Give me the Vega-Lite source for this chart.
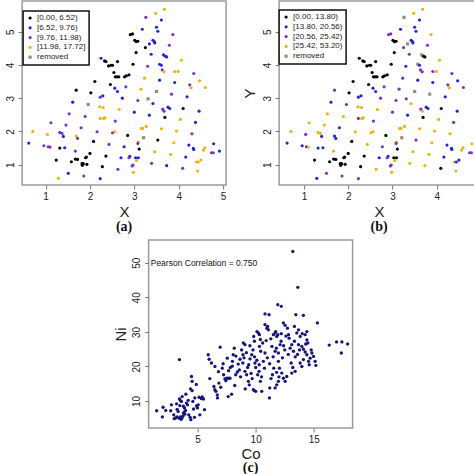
{
  "$schema": "https://vega.github.io/schema/vega-lite/v6.json",
  "padding": {"left": 4, "top": 0, "right": 0, "bottom": 0},
  "background": "white",
  "center": true,
  "spacing": 4,
  "config": {
    "view": {"stroke": "#9a9a9a", "strokeWidth": 1.5},
    "axis": {"grid": false, "domain": false, "tickColor": "#777777", "tickSize": 4, "labelFont": "Liberation Sans", "labelFontSize": 10, "labelColor": "#222222", "titleFont": "Liberation Sans", "titleFontSize": 15, "titleFontWeight": "normal", "titleColor": "#222222"},
    "axisY": {"labelAngle": -90},
    "legend": {"title": null, "orient": "none", "strokeColor": "#111111", "strokeWidth": 1.5, "fillColor": "white", "padding": 3, "labelFont": "Liberation Sans", "labelFontSize": 8, "labelColor": "#222222", "symbolSize": 28, "rowPadding": 1.8, "labelOffset": 3, "labelLimit": 200},
    "title": {"font": "Liberation Serif", "fontSize": 14, "fontWeight": "bold", "color": "#111111"}
  },
  "datasets": {
    "pts": [
      {"x":3.68,"y":5.67,"a":"o","b":"o"},{"x":3.26,"y":5.43,"a":"p","b":"r"},{"x":3.48,"y":5.55,"a":"o","b":"o"},{"x":3.61,"y":5.35,"a":"b","b":"b"},
      {"x":3.18,"y":5.07,"a":"b","b":"b"},{"x":3.50,"y":5.13,"a":"b","b":"b"},{"x":3.53,"y":5.01,"a":"b","b":"b"},{"x":2.91,"y":4.91,"a":"k","b":"p"},
      {"x":2.96,"y":4.93,"a":"k","b":"p"},{"x":3.87,"y":4.91,"a":"p","b":"o"},{"x":3.01,"y":4.74,"a":"k","b":"k"},{"x":3.04,"y":4.70,"a":"k","b":"k"},
      {"x":3.08,"y":4.71,"a":"k","b":"k"},{"x":3.42,"y":4.74,"a":"b","b":"b"},{"x":3.45,"y":4.70,"a":"b","b":"b"},{"x":3.46,"y":4.66,"a":"b","b":"b"},
      {"x":3.34,"y":4.63,"a":"b","b":"r"},{"x":3.25,"y":4.52,"a":"k","b":"p"},{"x":3.79,"y":4.59,"a":"p","b":"p"},{"x":3.04,"y":4.37,"a":"k","b":"k"},
      {"x":3.38,"y":4.32,"a":"b","b":"p"},{"x":3.66,"y":4.30,"a":"b","b":"r"},{"x":3.70,"y":4.26,"a":"b","b":"k"},{"x":3.73,"y":4.24,"a":"b","b":"k"},
      {"x":4.06,"y":4.14,"a":"o","b":"o"},{"x":2.97,"y":4.02,"a":"k","b":"k"},{"x":3.57,"y":4.02,"a":"b","b":"r"},{"x":3.61,"y":3.99,"a":"b","b":"b"},
      {"x":3.30,"y":3.96,"a":"p","b":"b"},{"x":3.63,"y":3.85,"a":"p","b":"p"},{"x":3.67,"y":3.79,"a":"o","b":"p"},{"x":3.91,"y":3.80,"a":"o","b":"p"},
      {"x":3.99,"y":3.80,"a":"o","b":"o"},{"x":4.34,"y":3.74,"a":"p","b":"p"},{"x":2.78,"y":3.64,"a":"k","b":"k"},{"x":2.82,"y":3.67,"a":"k","b":"k"},
      {"x":2.88,"y":3.70,"a":"k","b":"k"},{"x":3.23,"y":3.60,"a":"o","b":"p"},{"x":3.57,"y":3.54,"a":"b","b":"b"},{"x":3.91,"y":3.47,"a":"b","b":"b"},
      {"x":4.47,"y":3.52,"a":"o","b":"b"},{"x":4.25,"y":3.40,"a":"p","b":"p"},{"x":4.28,"y":3.31,"a":"o","b":"o"},{"x":4.60,"y":3.32,"a":"o","b":"p"},
      {"x":2.81,"y":3.34,"a":"p","b":"p"},{"x":3.15,"y":3.27,"a":"o","b":"p"},{"x":4.19,"y":3.04,"a":"b","b":"b"},
      {"x":2.73,"y":3.00,"a":"b","b":"p"},{"x":3.08,"y":2.93,"a":"p","b":"p"},{"x":3.42,"y":2.84,"a":"b","b":"o"},
      {"x":3.64,"y":2.67,"a":"p","b":"p"},{"x":3.76,"y":2.73,"a":"b","b":"b"},{"x":3.80,"y":2.69,"a":"b","b":"b"},{"x":3.67,"y":2.61,"a":"p","b":"o"},
      {"x":4.10,"y":2.69,"a":"k","b":"k"},{"x":4.46,"y":2.61,"a":"b","b":"b"},{"x":3.00,"y":2.58,"a":"b","b":"p"},{"x":3.34,"y":2.49,"a":"b","b":"b"},
      {"x":3.69,"y":2.42,"a":"k","b":"k"},{"x":4.04,"y":2.36,"a":"o","b":"o"},{"x":4.38,"y":2.27,"a":"b","b":"p"},{"x":3.27,"y":2.15,"a":"o","b":"o"},
      {"x":3.16,"y":2.09,"a":"o","b":"o"},{"x":3.19,"y":2.09,"a":"o","b":"o"},{"x":3.61,"y":2.08,"a":"o","b":"o"},{"x":3.95,"y":2.01,"a":"o","b":"o"},
      {"x":2.85,"y":1.88,"a":"k","b":"k"},{"x":4.30,"y":1.93,"a":"p","b":"o"},{"x":3.53,"y":1.74,"a":"k","b":"p"},
      {"x":3.09,"y":1.68,"a":"o","b":"o"},{"x":3.08,"y":1.64,"a":"p","b":"p"},{"x":3.89,"y":1.66,"a":"o","b":"o"},{"x":2.77,"y":1.54,"a":"b","b":"p"},
      {"x":4.23,"y":1.59,"a":"b","b":"b"},{"x":4.33,"y":1.49,"a":"b","b":"b"},{"x":4.34,"y":1.46,"a":"b","b":"b"},{"x":4.59,"y":1.51,"a":"o","b":"o"},
      {"x":4.56,"y":1.44,"a":"o","b":"o"},{"x":3.11,"y":1.47,"a":"k","b":"k"},{"x":4.79,"y":1.63,"a":"b","b":"o"},{"x":4.92,"y":1.41,"a":"b","b":"p"},
      {"x":4.74,"y":1.36,"a":"p","b":"p"},{"x":4.78,"y":1.36,"a":"p","b":"p"},{"x":3.46,"y":1.39,"a":"o","b":"o"},{"x":3.82,"y":1.31,"a":"o","b":"o"},
      {"x":4.16,"y":1.23,"a":"b","b":"b"},{"x":2.90,"y":1.25,"a":"b","b":"b"},{"x":2.88,"y":1.21,"a":"p","b":"p"},{"x":3.03,"y":1.21,"a":"b","b":"k"},
      {"x":3.09,"y":1.21,"a":"b","b":"k"},{"x":3.05,"y":1.13,"a":"o","b":"o"},{"x":4.40,"y":1.08,"a":"o","b":"o"},{"x":4.44,"y":1.08,"a":"o","b":"b"},
      {"x":4.50,"y":1.14,"a":"o","b":"b"},{"x":3.39,"y":1.04,"a":"p","b":"o"},{"x":2.97,"y":0.99,"a":"p","b":"p"},{"x":2.95,"y":0.96,"a":"p","b":"p"},
      {"x":3.73,"y":0.97,"a":"b","b":"o"},{"x":4.09,"y":0.89,"a":"p","b":"k"},{"x":2.98,"y":0.77,"a":"o","b":"o"},{"x":4.43,"y":0.81,"a":"o","b":"o"},
      {"x":2.63,"y":0.86,"a":"p","b":"o"},
      {"x":2.25,"y":4.20,"a":"b","b":"k"},{"x":2.33,"y":4.12,"a":"k","b":"k"},{"x":2.36,"y":4.10,"a":"k","b":"k"},{"x":2.42,"y":3.97,"a":"k","b":"k"},
      {"x":2.48,"y":3.99,"a":"k","b":"k"},{"x":2.51,"y":3.99,"a":"k","b":"k"},{"x":2.62,"y":4.10,"a":"k","b":"k"},{"x":2.54,"y":3.77,"a":"k","b":"k"},
      {"x":2.57,"y":3.64,"a":"k","b":"k"},{"x":2.61,"y":3.64,"a":"k","b":"k"},{"x":2.65,"y":3.64,"a":"k","b":"k"},{"x":2.46,"y":3.41,"a":"k","b":"k"},
      {"x":2.56,"y":3.30,"a":"b","b":"b"},{"x":2.62,"y":3.20,"a":"b","b":"b"},{"x":2.11,"y":3.50,"a":"k","b":"k"},{"x":2.02,"y":3.16,"a":"k","b":"k"},
      {"x":1.69,"y":3.24,"a":"k","b":"p"},{"x":1.61,"y":2.88,"a":"b","b":"b"},{"x":2.23,"y":3.03,"a":"p","b":"b"},
      {"x":2.29,"y":3.07,"a":"b","b":"b"},{"x":2.22,"y":2.74,"a":"o","b":"o"},{"x":2.30,"y":2.72,"a":"o","b":"o"},{"x":2.66,"y":2.66,"a":"o","b":"o"},
      {"x":1.53,"y":2.53,"a":"p","b":"o"},{"x":1.89,"y":2.45,"a":"p","b":"o"},{"x":2.23,"y":2.39,"a":"o","b":"p"},{"x":2.31,"y":2.39,"a":"o","b":"o"},
      {"x":2.34,"y":2.41,"a":"o","b":"o"},{"x":2.57,"y":2.31,"a":"p","b":"p"},{"x":1.12,"y":2.26,"a":"p","b":"o"},{"x":1.46,"y":2.19,"a":"p","b":"o"},
      {"x":1.80,"y":2.11,"a":"p","b":"b"},{"x":0.71,"y":2.00,"a":"o","b":"o"},{"x":1.04,"y":1.91,"a":"o","b":"p"},{"x":1.32,"y":1.97,"a":"p","b":"o"},
      {"x":1.37,"y":1.94,"a":"p","b":"o"},{"x":1.40,"y":1.85,"a":"b","b":"b"},{"x":1.69,"y":1.86,"a":"o","b":"b"},{"x":1.72,"y":1.79,"a":"p","b":"b"},
      {"x":2.16,"y":1.99,"a":"p","b":"o"},{"x":2.51,"y":1.96,"a":"p","b":"o"},{"x":2.56,"y":1.99,"a":"o","b":"o"},{"x":0.62,"y":1.65,"a":"b","b":"b"},
      {"x":0.96,"y":1.57,"a":"p","b":"b"},{"x":1.06,"y":1.54,"a":"p","b":"b"},{"x":1.10,"y":1.53,"a":"p","b":"o"},{"x":1.32,"y":1.50,"a":"k","b":"b"},
      {"x":1.43,"y":1.51,"a":"b","b":"b"},{"x":2.08,"y":1.70,"a":"k","b":"k"},{"x":2.43,"y":1.61,"a":"p","b":"o"},{"x":2.00,"y":1.34,"a":"k","b":"k"},
      {"x":2.36,"y":1.26,"a":"k","b":"k"},{"x":2.70,"y":1.21,"a":"b","b":"b"},{"x":1.67,"y":1.41,"a":"p","b":"o"},{"x":1.24,"y":1.14,"a":"k","b":"k"},
      {"x":1.58,"y":1.09,"a":"k","b":"k"},{"x":1.67,"y":1.17,"a":"k","b":"k"},{"x":1.72,"y":1.16,"a":"k","b":"k"},{"x":1.90,"y":1.21,"a":"k","b":"k"},
      {"x":1.92,"y":1.23,"a":"k","b":"k"},{"x":1.82,"y":1.03,"a":"k","b":"k"},{"x":1.85,"y":1.03,"a":"k","b":"k"},{"x":1.83,"y":0.98,"a":"k","b":"k"},
      {"x":1.93,"y":1.01,"a":"k","b":"k"},{"x":2.28,"y":0.94,"a":"k","b":"k"},{"x":1.51,"y":0.74,"a":"b","b":"p"},{"x":1.86,"y":0.66,"a":"p","b":"p"},
      {"x":1.29,"y":0.59,"a":"o","b":"b"},{"x":2.23,"y":0.58,"a":"b","b":"p"},
      {"x":3.50,"y":3.20,"a":"r","b":"r"},{"x":3.31,"y":2.98,"a":"r","b":"p"},{"x":3.84,"y":3.12,"a":"p","b":"r"},{"x":3.21,"y":1.81,"a":"r","b":"r"},
      {"x":1.96,"y":2.81,"a":"r","b":"p"}
    ],
    "cc": [
      {"Co":13.19,"Ni":53.3},{"Co":13.62,"Ni":42.9},{"Co":3.45,"Ni":22.0},{"Co":16.32,"Ni":26.2},{"Co":16.95,"Ni":27.1},{"Co":17.41,"Ni":27.1},{"Co":17.9,"Ni":26.5},{"Co":17.36,"Ni":23.9},
      {"Co":15.3,"Ni":32.6},{"Co":11.9,"Ni":37.9},{"Co":12.2,"Ni":37.4},{"Co":10.8,"Ni":35.2},{"Co":11.15,"Ni":35.0},{"Co":13.45,"Ni":35.0},{"Co":14.1,"Ni":34.8},
      {"Co":1.49,"Ni":7.2},{"Co":1.98,"Ni":5.4},{"Co":2.04,"Ni":8.2},{"Co":2.27,"Ni":7.3},{"Co":2.7,"Ni":7.2},{"Co":2.76,"Ni":8.9},{"Co":2.96,"Ni":6.0},{"Co":3.1,"Ni":5.1},
      {"Co":3.25,"Ni":5.4},{"Co":3.42,"Ni":5.0},{"Co":3.53,"Ni":5.4},{"Co":3.65,"Ni":5.0},{"Co":3.74,"Ni":5.6},{"Co":3.25,"Ni":7.6},{"Co":3.33,"Ni":7.0},{"Co":3.48,"Ni":8.7},
      {"Co":3.45,"Ni":10.6},{"Co":3.53,"Ni":10.1},{"Co":3.68,"Ni":11.3},{"Co":3.62,"Ni":9.9},{"Co":3.79,"Ni":8.5},{"Co":3.88,"Ni":8.0},{"Co":3.97,"Ni":7.3},{"Co":3.91,"Ni":6.2},
      {"Co":3.85,"Ni":6.8},{"Co":4.05,"Ni":9.4},{"Co":4.2,"Ni":10.2},{"Co":4.14,"Ni":8.9},{"Co":4.25,"Ni":6.0},{"Co":4.37,"Ni":5.3},{"Co":4.43,"Ni":4.6},{"Co":4.4,"Ni":13.5},
      {"Co":4.54,"Ni":13.0},{"Co":4.54,"Ni":15.7},{"Co":4.48,"Ni":17.1},{"Co":4.6,"Ni":9.9},{"Co":4.77,"Ni":10.9},{"Co":4.66,"Ni":7.7},{"Co":4.74,"Ni":5.3},{"Co":4.91,"Ni":8.6},
      {"Co":5.0,"Ni":8.0},{"Co":5.06,"Ni":8.9},{"Co":5.14,"Ni":11.1},{"Co":5.34,"Ni":10.7},{"Co":5.52,"Ni":10.6},{"Co":5.6,"Ni":7.5},{"Co":5.2,"Ni":6.0},{"Co":3.0,"Ni":4.9},
      {"Co":3.6,"Ni":4.7},{"Co":3.8,"Ni":6.5},{"Co":4.0,"Ni":12.0},{"Co":3.2,"Ni":9.2},{"Co":4.9,"Ni":14.8},{"Co":5.4,"Ni":11.2},
      {"Co":5.92,"Ni":23.4},{"Co":6.0,"Ni":22.1},{"Co":6.2,"Ni":21.0},{"Co":6.06,"Ni":16.5},{"Co":6.41,"Ni":14.2},{"Co":6.49,"Ni":13.3},{"Co":6.58,"Ni":12.8},{"Co":6.7,"Ni":11.8},
      {"Co":6.72,"Ni":10.9},{"Co":6.84,"Ni":15.2},{"Co":6.95,"Ni":25.6},{"Co":7.13,"Ni":19.5},{"Co":7.24,"Ni":17.6},{"Co":7.36,"Ni":16.4},{"Co":7.5,"Ni":16.6},{"Co":7.64,"Ni":16.6},
      {"Co":7.79,"Ni":16.6},{"Co":7.44,"Ni":15.9},{"Co":7.67,"Ni":18.8},{"Co":7.82,"Ni":19.7},{"Co":7.56,"Ni":22.4},{"Co":8.07,"Ni":23.4},{"Co":8.16,"Ni":25.3},{"Co":7.99,"Ni":20.1},
      {"Co":7.64,"Ni":11.3},{"Co":7.93,"Ni":12.0},{"Co":8.28,"Ni":17.6},{"Co":8.42,"Ni":18.4},{"Co":8.5,"Ni":20.7},{"Co":8.65,"Ni":22.1},{"Co":8.79,"Ni":24.8},{"Co":8.91,"Ni":23.4},
      {"Co":8.94,"Ni":26.8},{"Co":9.08,"Ni":26.3},{"Co":9.08,"Ni":18.6},{"Co":9.22,"Ni":17.6},{"Co":9.31,"Ni":19.7},{"Co":9.37,"Ni":15.7},{"Co":9.45,"Ni":14.7},{"Co":9.51,"Ni":22.2},
      {"Co":9.66,"Ni":23.4},{"Co":9.77,"Ni":24.8},{"Co":9.83,"Ni":28.7},{"Co":9.89,"Ni":27.3},{"Co":9.94,"Ni":21.0},{"Co":10.0,"Ni":19.7},{"Co":9.8,"Ni":13.3},{"Co":9.89,"Ni":13.0},
      {"Co":10.0,"Ni":12.8},{"Co":10.11,"Ni":30.1},{"Co":10.23,"Ni":29.7},{"Co":10.32,"Ni":29.2},{"Co":10.32,"Ni":25.8},{"Co":10.43,"Ni":24.4},{"Co":10.17,"Ni":17.6},{"Co":10.29,"Ni":18.6},
      {"Co":10.4,"Ni":15.7},{"Co":10.52,"Ni":12.8},{"Co":10.66,"Ni":21.5},{"Co":10.8,"Ni":23.9},{"Co":10.75,"Ni":19.5},{"Co":10.8,"Ni":32.1},{"Co":10.95,"Ni":31.1},{"Co":11.03,"Ni":31.6},
      {"Co":11.09,"Ni":30.6},{"Co":11.18,"Ni":10.9},{"Co":11.21,"Ni":13.8},{"Co":11.32,"Ni":16.5},{"Co":11.44,"Ni":17.6},{"Co":11.55,"Ni":19.5},{"Co":11.52,"Ni":29.2},{"Co":11.67,"Ni":29.7},
      {"Co":11.72,"Ni":30.1},{"Co":11.81,"Ni":28.7},{"Co":11.9,"Ni":29.2},{"Co":11.67,"Ni":24.4},{"Co":11.78,"Ni":25.3},{"Co":11.95,"Ni":23.9},{"Co":12.1,"Ni":26.3},{"Co":12.18,"Ni":27.3},
      {"Co":11.95,"Ni":21.5},{"Co":12.04,"Ni":19.5},{"Co":12.24,"Ni":18.1},{"Co":11.67,"Ni":13.8},{"Co":11.81,"Ni":14.7},{"Co":11.95,"Ni":15.7},{"Co":12.38,"Ni":16.6},{"Co":12.53,"Ni":15.7},
      {"Co":12.67,"Ni":17.1},{"Co":12.38,"Ni":32.6},{"Co":12.53,"Ni":31.9},{"Co":12.73,"Ni":31.1},{"Co":12.82,"Ni":29.2},{"Co":12.87,"Ni":28.2},{"Co":12.96,"Ni":25.3},{"Co":13.1,"Ni":26.3},
      {"Co":13.25,"Ni":24.4},{"Co":13.33,"Ni":27.3},{"Co":13.05,"Ni":21.0},{"Co":13.19,"Ni":19.7},{"Co":13.39,"Ni":18.6},{"Co":13.33,"Ni":31.6},{"Co":13.53,"Ni":29.7},{"Co":13.68,"Ni":30.6},
      {"Co":13.82,"Ni":28.7},{"Co":13.68,"Ni":26.3},{"Co":13.76,"Ni":24.8},{"Co":13.97,"Ni":25.8},{"Co":13.82,"Ni":21.0},{"Co":13.97,"Ni":20.0},{"Co":14.1,"Ni":22.0},{"Co":14.25,"Ni":29.2},
      {"Co":14.4,"Ni":27.7},{"Co":14.48,"Ni":26.8},{"Co":14.1,"Ni":25.0},{"Co":14.25,"Ni":24.2},{"Co":14.4,"Ni":23.4},{"Co":14.54,"Ni":21.5},{"Co":14.6,"Ni":20.5},{"Co":14.68,"Ni":22.4},
      {"Co":14.77,"Ni":24.8},{"Co":14.83,"Ni":23.9},{"Co":14.97,"Ni":22.9},{"Co":15.11,"Ni":21.5},{"Co":15.17,"Ni":20.3},{"Co":14.4,"Ni":30.1},{"Co":13.1,"Ni":18.1},
      {"Co":8.0,"Ni":21.5},{"Co":8.3,"Ni":23.0},{"Co":8.6,"Ni":19.0},{"Co":8.9,"Ni":21.0},{"Co":9.0,"Ni":22.5},{"Co":9.2,"Ni":24.0},{"Co":9.4,"Ni":20.5},{"Co":9.6,"Ni":18.0},
      {"Co":9.7,"Ni":16.5},{"Co":9.9,"Ni":22.8},{"Co":10.1,"Ni":21.8},{"Co":10.3,"Ni":20.5},{"Co":10.5,"Ni":17.0},{"Co":10.6,"Ni":26.8},{"Co":10.9,"Ni":27.5},{"Co":11.0,"Ni":22.5},
      {"Co":11.2,"Ni":20.8},{"Co":11.4,"Ni":25.8},{"Co":11.5,"Ni":22.8},{"Co":11.8,"Ni":18.3},{"Co":12.0,"Ni":17.0},{"Co":12.3,"Ni":22.5},{"Co":12.5,"Ni":24.8},{"Co":12.6,"Ni":28.8},
      {"Co":12.8,"Ni":23.5},{"Co":7.2,"Ni":20.8},{"Co":6.8,"Ni":18.5},{"Co":7.0,"Ni":14.0},{"Co":6.5,"Ni":20.0},{"Co":8.2,"Ni":14.5},{"Co":9.1,"Ni":13.5},{"Co":12.2,"Ni":29.5},
      {"Co":12.4,"Ni":26.0},{"Co":13.4,"Ni":22.8},{"Co":13.6,"Ni":23.5},{"Co":14.0,"Ni":29.5},{"Co":14.3,"Ni":26.5},{"Co":11.3,"Ni":28.0},{"Co":10.4,"Ni":27.8},{"Co":9.5,"Ni":26.0},{"Co":8.7,"Ni":17.0}
    ],
    "note": [{"Co": 0.98, "Ni": 50.0, "label": "Pearson Correlation = 0.750"}]
  },
  "vconcat": [
    {
      "spacing": 14,
      "resolve": {"scale": {"color": "independent", "shape": "independent", "size": "independent"}, "legend": {"color": "independent", "shape": "independent"}},
      "hconcat": [
        {
          "width": 204, "height": 184,
          "title": {"text": "(a)", "orient": "bottom", "anchor": "middle", "frame": "group", "offset": 1},
          "data": {"name": "pts"},
          "transform": [{"calculate": "{'k':'[0.00, 6.52)','b':'[6.52, 9.76)','p':'[9.76, 11.98)','o':'[11.98, 17.72]','r':'removed'}[datum.a]", "as": "ca"}],
          "mark": {"type": "point", "filled": true, "opacity": 1},
          "encoding": {
            "x": {"field": "x", "type": "quantitative", "scale": {"domain": [0.47, 5.07], "nice": false, "zero": false}, "axis": {"title": "X", "values": [1, 2, 3, 4, 5], "labelPadding": 2, "titlePadding": 3}},
            "y": {"field": "y", "type": "quantitative", "scale": {"domain": [0.39, 5.92], "nice": false, "zero": false}, "axis": {"title": null, "values": [1, 2, 3, 4, 5], "labelPadding": 3}},
            "color": {"field": "ca", "type": "nominal", "scale": {"domain": ["[0.00, 6.52)", "[6.52, 9.76)", "[9.76, 11.98)", "[11.98, 17.72]", "removed"], "range": ["#000000", "#2525d6", "#7a32c4", "#f2b10c", "#948d72"]}, "legend": {"legendX": 1, "legendY": 10}},
            "shape": {"field": "ca", "type": "nominal", "scale": {"domain": ["[0.00, 6.52)", "[6.52, 9.76)", "[9.76, 11.98)", "[11.98, 17.72]", "removed"], "range": ["circle", "circle", "circle", "circle", "square"]}, "legend": {"legendX": 1, "legendY": 10}},
            "size": {"field": "ca", "type": "ordinal", "scale": {"domain": ["[0.00, 6.52)", "[6.52, 9.76)", "[9.76, 11.98)", "[11.98, 17.72]", "removed"], "range": [10, 10, 10, 10, 22]}, "legend": null}
          }
        },
        {
          "width": 200, "height": 184,
          "title": {"text": "(b)", "orient": "bottom", "anchor": "middle", "frame": "group", "offset": 1},
          "data": {"name": "pts"},
          "transform": [{"calculate": "{'k':'[0.00, 13.80)','b':'[13.80, 20.56)','p':'[20.56, 25.42)','o':'[25.42, 53.20)','r':'removed'}[datum.b]", "as": "cb"}],
          "mark": {"type": "point", "filled": true, "opacity": 1},
          "encoding": {
            "x": {"field": "x", "type": "quantitative", "scale": {"domain": [0.44, 4.955], "nice": false, "zero": false}, "axis": {"title": "X", "values": [1, 2, 3, 4], "labelPadding": 2, "titlePadding": 3}},
            "y": {"field": "y", "type": "quantitative", "scale": {"domain": [0.39, 5.92], "nice": false, "zero": false}, "axis": {"title": "Y", "values": [1, 2, 3, 4, 5], "labelPadding": 3, "titlePadding": 5}},
            "color": {"field": "cb", "type": "nominal", "scale": {"domain": ["[0.00, 13.80)", "[13.80, 20.56)", "[20.56, 25.42)", "[25.42, 53.20)", "removed"], "range": ["#000000", "#2525d6", "#7a32c4", "#f2b10c", "#948d72"]}, "legend": {"legendX": 0, "legendY": 9}},
            "shape": {"field": "cb", "type": "nominal", "scale": {"domain": ["[0.00, 13.80)", "[13.80, 20.56)", "[20.56, 25.42)", "[25.42, 53.20)", "removed"], "range": ["circle", "circle", "circle", "circle", "square"]}, "legend": {"legendX": 0, "legendY": 9}},
            "size": {"field": "cb", "type": "ordinal", "scale": {"domain": ["[0.00, 13.80)", "[13.80, 20.56)", "[20.56, 25.42)", "[25.42, 53.20)", "removed"], "range": [10, 10, 10, 10, 22]}, "legend": null}
          }
        }
      ]
    },
    {
      "width": 204, "height": 188,
      "title": {"text": "(c)", "orient": "bottom", "anchor": "middle", "frame": "group", "offset": 0},
      "layer": [
        {
          "data": {"name": "cc"},
          "mark": {"type": "point", "filled": true, "opacity": 1, "size": 11, "color": "#16167a"},
          "encoding": {
            "x": {"field": "Co", "type": "quantitative", "scale": {"domain": [0.8, 18.33], "nice": false, "zero": false}, "axis": {"title": "Co", "values": [5, 10, 15], "labelPadding": 2, "titlePadding": 2}},
            "y": {"field": "Ni", "type": "quantitative", "scale": {"domain": [2.2, 56.6], "nice": false, "zero": false}, "axis": {"title": "Ni", "values": [10, 20, 30, 40, 50], "labelPadding": 3, "titlePadding": 3}}
          }
        },
        {
          "data": {"name": "note"},
          "mark": {"type": "text", "align": "left", "baseline": "middle", "font": "Liberation Sans", "fontSize": 8.5, "color": "#111111"},
          "encoding": {
            "x": {"field": "Co", "type": "quantitative"},
            "y": {"field": "Ni", "type": "quantitative"},
            "text": {"field": "label"}
          }
        }
      ]
    }
  ]
}
